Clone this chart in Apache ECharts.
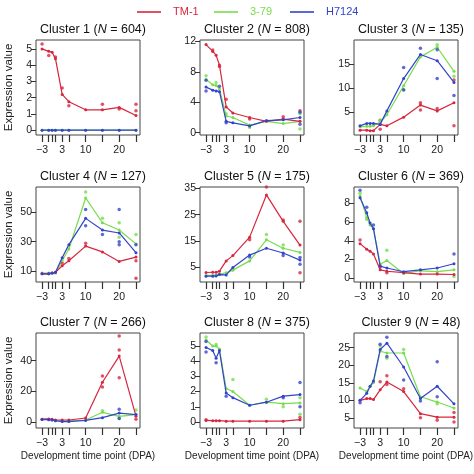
<!DOCTYPE html>
<html><head><meta charset="utf-8">
<script src="https://cdn.jsdelivr.net/npm/echarts@6/dist/echarts.min.js"></script>
<style>html,body{margin:0;padding:0;background:#fff}#c{width:474px;height:474px}</style>
</head><body><div id="c"></div>
<script>
var timePoints = [-3, -1, 0, 1, 3, 5, 10, 15, 20, 25]
var xLabels = [-3, 3, 10, 20]
var seriesNames = ['TM-1', '3-79', 'H7124']
var clusterNames = ['Cluster 1', 'Cluster 2', 'Cluster 3', 'Cluster 4', 'Cluster 5', 'Cluster 6', 'Cluster 7', 'Cluster 8', 'Cluster 9']
var clusterN = [604, 808, 135, 127, 175, 369, 266, 375, 48]

// mean lines per cluster
var meanTM1 = [
  [5.0, 4.85, 4.8, 4.4, 2.2, 1.75, 1.25, 1.25, 1.4, 0.9],
  [11.6, 10.7, 10.2, 8.9, 3.4, 2.6, 2.0, 1.5, 1.8, 1.5],
  [1.3, 1.3, 1.2, 1.2, 2.5, 2.2, 4.0, 6.5, 5.3, 7.0],
  [8, 8, 8.5, 9, 13.5, 17, 27, 23, 16.5, 19.5],
  [3.1, 3.2, 3.2, 3.6, 7.5, 9.5, 16.5, 32.5, 22.5, 13.5],
  [3.7, 3.1, 2.9, 2.6, 0.9, 0.75, 0.6, 0.45, 0.45, 0.4],
  [2, 2.2, 2, 1.5, 1.5, 1.5, 2.8, 26, 43, 4],
  [0.1, 0.08, 0.08, 0.08, 0.05, 0.05, 0.05, 0.05, 0.05, 0.15],
  [10, 10.5, 10.5, 10.2, 13, 15.2, 12.5, 6.2, 5.2, 5.2]
]
var mean379 = [
  [0, 0, 0, 0, 0, 0, 0, 0, 0, 0],
  [7.0, 6.3, 6.2, 5.8, 2.2, 2.0, 1.0, 1.5, 1.2, 1.5],
  [2.0, 2.1, 2.1, 2.2, 3.0, 4.5, 10.5, 16.5, 18.5, 13.5],
  [8.5, 8.5, 8.5, 8.5, 17, 25, 60, 43, 38, 28.5],
  [2, 2, 2.2, 2.5, 3, 4, 7.5, 15.5, 12.3, 10.7],
  [8.8, 6.5, 5.7, 5.3, 1.5, 1.9, 0.5, 0.8, 0.7, 0.9],
  [2, 1.8, 1.5, 1, 1, 1, 1.5, 6.5, 3.8, 5],
  [5.4, 5.0, 5.0, 4.8, 2.2, 2.0, 1.1, 1.3, 1.2, 1.25],
  [13.5, 12.5, 14, 15, 24, 23.5, 23.5, 11, 9.5, 7.8]
]
var meanH7124 = [
  [0, 0, 0, 0, 0, 0, 0, 0, 0, 0],
  [6.0, 5.6, 5.5, 5.4, 1.5, 1.3, 0.9, 1.6, 1.7, 2.0],
  [2.2, 2.7, 2.7, 2.7, 2.5, 5.3, 12, 17, 15.7, 11.2],
  [8, 8, 8.5, 9, 19, 28, 46, 38, 36, 22.5],
  [1.7, 1.7, 1.8, 2.3, 2.2, 5.0, 9.7, 12.3, 10.5, 7.8],
  [8.6, 7.0, 5.9, 5.3, 1.3, 1.1, 0.7, 0.9, 1.1, 1.55],
  [1.8, 1.7, 1.5, 1.0, 0.5, 0.5, 1.2, 3, 6, 5],
  [4.9, 4.7, 4.2, 4.7, 1.9, 1.6, 1.1, 1.3, 1.7, 1.8],
  [10, 12, 14, 15.5, 24.5, 26.3, 19.5, 10.5, 14, 9]
]
// replicate points visibly off the mean lines, [x, y]
var repTM1 = [
  [[-3, 5.3], [-1, 4.6], [1, 4.5], [3, 2.6], [5, 1.5], [15, 1.6], [20, 1.3], [25, 1.6], [25, 1.2]],
  [[-1, 10.9], [1, 8.7], [3, 4.4], [10, 1.8], [20, 2.1], [25, 2.9]],
  [[3, 1.5], [3, 3.3], [15, 5.5], [15, 7.0], [20, 5.8], [25, 2.2], [25, 11.7]],
  [[3, 15.5], [5, 18.5], [10, 29], [25, 5], [25, 17]],
  [[10, 15.5], [15, 35.5], [20, 23], [25, 22.5], [25, 3]],
  [[-3, 4.1], [3, 1.2], [5, 0.6]],
  [[15, 30], [15, 23], [20, 56], [20, 47], [20, 29], [25, 2]],
  [[-3, 0.15], [25, 0.3]],
  [[3, 15.3], [5, 17], [5, 14.5], [10, 13.3], [15, 5], [20, 4.3], [25, 6.5], [25, 3.8]]
]
var rep379 = [
  [],
  [[-3, 7.5], [0, 6.6], [3, 2.5], [10, 0.7], [25, 2.5], [25, 0.5]],
  [[3, 3.4], [10, 9.6], [20, 19], [25, 12.5]],
  [[10, 64], [15, 46], [20, 43], [20, 33], [25, 35]],
  [[15, 17.5], [20, 13.5]],
  [[-3, 9.1], [-1, 6.3], [5, 3.0], [25, 0.2]],
  [[15, 7.5], [20, 2.5], [25, 8]],
  [[-3, 5.6], [0, 5.1], [5, 2.8], [15, 1.5], [20, 1], [25, 1.6], [25, 0.5]],
  [[3, 25.5], [5, 22], [10, 24.5], [20, 9]]
]
var repH7124 = [
  [],
  [[-3, 6.9], [-3, 5.5], [1, 6.1], [3, 1.3], [25, 2.7], [25, 1.1]],
  [[10, 14.3], [10, 9.7], [15, 18.3], [20, 18], [20, 12], [25, 8.5]],
  [[10, 52], [10, 41], [15, 35], [20, 52], [20, 30], [20, 28], [25, 28]],
  [[10, 9], [20, 9.5], [25, 8.8], [25, 6.2]],
  [[-3, 9.4], [-1, 7.6], [1, 5.7], [25, 2.6]],
  [[20, 8.5], [20, 2.5]],
  [[-3, 5.3], [-3, 4.6], [0, 3.9], [3, 1.7], [20, 1.6], [25, 2.6], [25, 1]],
  [[-3, 9.3], [3, 26], [5, 28], [5, 22.5], [10, 15.8], [15, 9.8], [20, 21], [20, 11]]
]
var yMin = [-0.3, -0.3, 0.3, 2.4, -0.5, -0.4, -3.7, -0.4, 2.1]
var yMax = [5.55, 12.2, 20, 67.5, 35.5, 9.76, 58, 5.86, 29.2]
var yTicks = [
  [0, 1, 2, 3, 4, 5], [0, 4, 8, 12], [5, 10, 15], [10, 30, 50], [5, 15, 25, 35],
  [0, 2, 4, 6, 8], [0, 20, 40], [0, 1, 2, 3, 4, 5], [5, 10, 15, 20, 25]
]

var colors = ['#d7263d', '#77dd4c', '#3344cc']
var colLeft = [36, 200, 354], rowTop = [40, 187, 333]
var pw = 104, ph = 95
var font = 'Liberation Sans, Arial, sans-serif'

var grids = [], xAxes = [], yAxes = [], series = [], titles = []
for (var i = 0; i < 9; i++) {
  var c = i % 3, r = Math.floor(i / 3)
  grids.push({ left: colLeft[c], top: rowTop[r], width: pw, height: ph, show: true, borderColor: '#444', borderWidth: 1, backgroundColor: 'transparent' })
  xAxes.push({
    type: 'value', gridIndex: i, min: -4.8, max: 26.2, position: 'bottom',
    axisLine: { show: false, onZero: false }, splitLine: { show: false },
    axisTick: { show: true, customValues: timePoints, length: 7, lineStyle: { color: '#333', width: 1.2 } },
    axisLabel: { customValues: xLabels, color: '#222', fontSize: 10.5, fontFamily: font, margin: 10,
      formatter: function (v) { return v < 0 ? '\u2212' + (-v) : v } }
  })
  yAxes.push({
    type: 'value', gridIndex: i, min: yMin[i], max: yMax[i], position: 'left',
    axisLine: { show: false, onZero: false }, splitLine: { show: false },
    axisTick: { show: true, customValues: yTicks[i], length: 5, lineStyle: { color: '#333' } },
    axisLabel: { customValues: yTicks[i], color: '#222', fontSize: 10.5, fontFamily: font, margin: 4 }
  })
  var means = [meanTM1[i], mean379[i], meanH7124[i]]
  var reps = [repTM1[i], rep379[i], repH7124[i]]
  for (var s = 0; s < 3; s++) {
    series.push({
      type: 'line', name: seriesNames[s], xAxisIndex: i, yAxisIndex: i,
      data: timePoints.map(function (t, k) { return [t, means[s][k]] }),
      symbol: 'circle', symbolSize: 3, showSymbol: true,
      lineStyle: { width: 1.2, color: colors[s] }, itemStyle: { color: colors[s] },
      z: s === 1 ? 2 : 3, silent: true
    })
    series.push({
      type: 'scatter', xAxisIndex: i, yAxisIndex: i, data: reps[s],
      symbolSize: 3.5, itemStyle: { color: colors[s] }, silent: true
    })
  }
  titles.push({
    text: '{a|' + clusterNames[i] + ' (}{i|N}{a| = ' + clusterN[i] + ')}',
    left: colLeft[c] + pw / 2, top: rowTop[r] - 22, textAlign: 'center',
    textStyle: { fontWeight: 'normal', rich: {
      a: { fontSize: 12.5, color: '#111', fontFamily: font, fontWeight: 'normal' },
      i: { fontSize: 12.5, color: '#111', fontFamily: font, fontStyle: 'italic', fontWeight: 'normal' }
    } }
  })
}

var graphics = []
for (var r = 0; r < 3; r++) {
  graphics.push({ type: 'text', rotation: Math.PI / 2, x: 3, y: rowTop[r] + ph / 2, style: {
    text: 'Expression value', fontSize: 11.5, fontFamily: font, fill: '#222', align: 'center', verticalAlign: 'top' } })
}
for (var c = 0; c < 3; c++) {
  graphics.push({ type: 'text', x: colLeft[c] + pw / 2, y: 451, style: {
    text: 'Development time point (DPA)', fontSize: 10, fontFamily: font, fill: '#222', align: 'center' } })
}
var legX = [137, 214, 290]
for (var s = 0; s < 3; s++) {
  graphics.push({ type: 'line', shape: { x1: legX[s], y1: 12, x2: legX[s] + 24, y2: 12 }, style: { stroke: colors[s], lineWidth: 1.6 } })
  graphics.push({ type: 'text', x: legX[s] + 36, y: 12, style: { text: seriesNames[s], fontSize: 11, fontFamily: font, fill: colors[s], verticalAlign: 'middle' } })
}

var chart = echarts.init(document.getElementById('c'))
chart.setOption({
  animation: false,
  title: titles,
  grid: grids, xAxis: xAxes, yAxis: yAxes, series: series,
  graphic: graphics
})
</script></body></html>
